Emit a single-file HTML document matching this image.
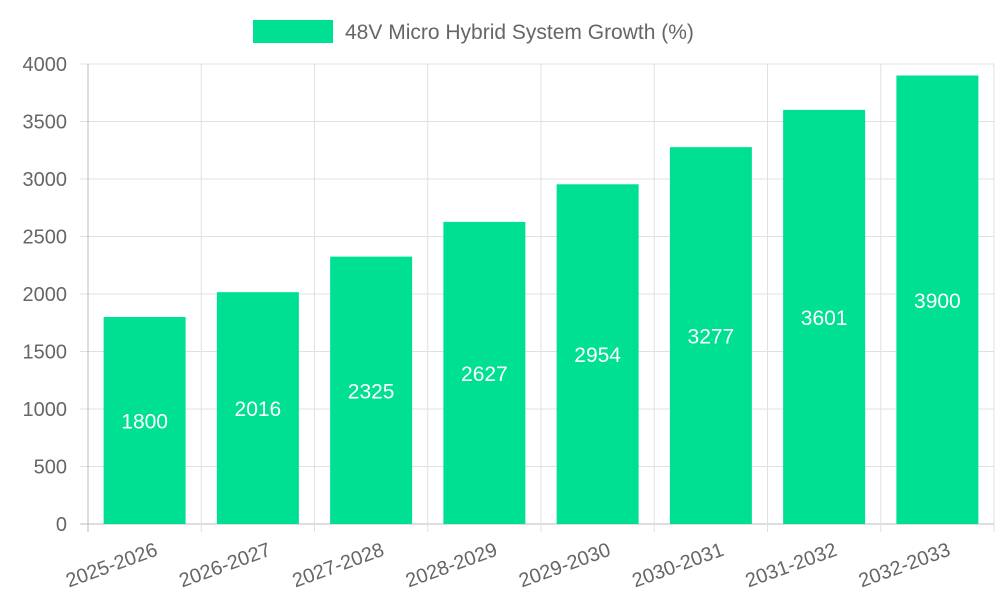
<!DOCTYPE html>
<html><head><meta charset="utf-8"><style>
html,body{margin:0;padding:0;background:#fff;}
svg text{font-family:"Liberation Sans",sans-serif;}
</style></head><body>
<svg id="chart" width="1000" height="600"></svg>
<script>
const categories=["2025-2026","2026-2027","2027-2028","2028-2029","2029-2030","2030-2031","2031-2032","2032-2033"];
const values=[1800,2016,2325,2627,2954,3277,3601,3900];
const yTicks=[0,500,1000,1500,2000,2500,3000,3500,4000];
const seriesName="48V Micro Hybrid System Growth (%)";

const NS="http://www.w3.org/2000/svg";
const svg=document.getElementById('chart');
const L=88,R=994,T=64,B=524,yMax=4000;
const band=(R-L)/categories.length;
const y=v=>B-(v/yMax)*(B-T);
const x=i=>L+i*band;
function mk(tag,attrs,parent){const e=document.createElementNS(NS,tag);for(const k in attrs)e.setAttribute(k,attrs[k]);(parent||svg).appendChild(e);return e;}

// legend
const lg=mk('g',{});


const lr=mk('rect',{x:253,y:20,width:80,height:23,fill:'#00e092'},lg);


const lt=mk('text',{x:345,y:39,'font-size':21,fill:'#666'},lg);
lt.textContent=seriesName;



// horizontal grid + y labels
yTicks.forEach(t=>{
  const g=mk('line',{x1:L-8,x2:R,y1:y(t),y2:y(t),stroke:t===0?'#bbb':'#e0e0e0','stroke-width':1});
  
  
  const tx=mk('text',{x:67,y:y(t)+7,'font-size':20,fill:'#666','text-anchor':'end'});
  tx.textContent=t;
  
  
});
// vertical grid
for(let i=0;i<=categories.length;i++){
  const g=mk('line',{x1:x(i),x2:x(i),y1:T,y2:B+8,stroke:i===0?'#bbb':'#e0e0e0','stroke-width':1});
  
  
}
// bars
values.forEach((v,i)=>{
  const bw=82,bx=x(i)+(band-bw)/2;
  const r=mk('rect',{x:bx,y:y(v),width:bw,height:B-y(v),fill:'#00e092'});
  
  
  const t=mk('text',{x:bx+bw/2,y:(y(v)+B)/2+8,'font-size':21,fill:'#fff','text-anchor':'middle'});
  t.textContent=v;
  
  
  const c=x(i)+band/2+8;
  const xl=mk('text',{x:c,y:538,'font-size':20,fill:'#666','text-anchor':'end',transform:`rotate(-20 ${c} 538)`,dy:'0.9em'});
  xl.textContent=categories[i];
  
  
});
</script>
</body></html>
